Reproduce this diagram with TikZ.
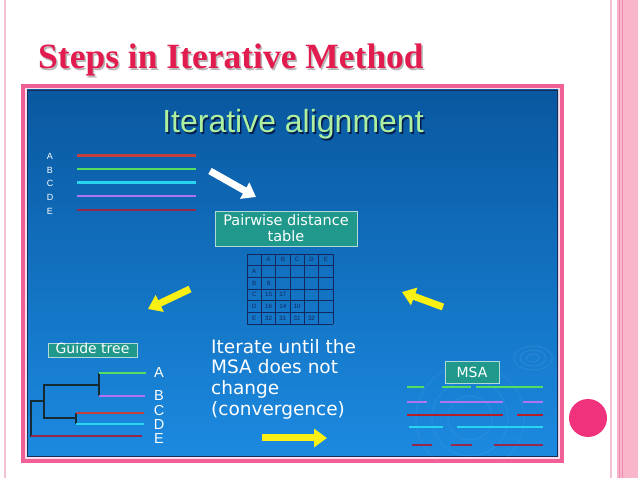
\documentclass[tikz,border=0pt]{standalone}
\usepackage{fontspec}
\setmainfont{Liberation Serif}
\newfontfamily\arialfont{Liberation Sans}
\newfontfamily\verdfont{DejaVu Sans}
\usetikzlibrary{arrows.meta}

\definecolor{framepink}{RGB}{240,95,150}
\definecolor{stripepink}{RGB}{249,182,202}
\definecolor{darkstripe}{RGB}{238,140,175}
\definecolor{lightpink}{RGB}{246,192,212}
\definecolor{titlered}{RGB}{226,28,78}
\definecolor{paneltop}{RGB}{9,88,160}
\definecolor{panelmid}{RGB}{11,98,174}
\definecolor{panelbot}{RGB}{28,138,224}
\definecolor{panelrim}{RGB}{25,45,85}
\definecolor{boxteal}{RGB}{32,152,140}
\definecolor{titlegreen}{RGB}{172,240,160}
\definecolor{seqred}{RGB}{196,64,60}
\definecolor{seqgreen}{RGB}{86,222,96}
\definecolor{seqcyan}{RGB}{40,212,238}
\definecolor{seqpurple}{RGB}{176,116,240}
\definecolor{seqwine}{RGB}{150,40,76}
\definecolor{msared}{RGB}{180,30,40}
\definecolor{arrowyellow}{RGB}{250,240,20}
\definecolor{treedark}{RGB}{22,42,52}
\definecolor{gridnavy}{RGB}{18,40,95}
\definecolor{dotpink}{RGB}{240,50,125}

\tikzset{
  seqline/.style={line width=2.4pt},
  branch/.style={line width=2.6pt, color=treedark},
  tealbox/.style={fill=boxteal, draw=white!65!boxteal, line width=0.8pt, text=white, inner sep=0pt},
  cell/.style={font=\arialfont\fontsize{6.2}{7}\selectfont, text=gridnavy, inner sep=0pt},
  gridline/.style={draw=gridnavy, line width=0.8pt},
  treelabel/.style={font=\arialfont\fontsize{14.5}{16}\selectfont, text=white, inner sep=0pt},
  blockarrow/.style={line width=7pt, -{Triangle[length=13pt,width=18pt]}},
}

\begin{document}
\begin{tikzpicture}[x=1pt,y=-1pt]
  \useasboundingbox (0,0) rectangle (638,478);
  \fill[white] (0,0) rectangle (638,478);
  % page edges
  \draw[lightpink, line width=1.5pt] (5,0) -- (5,478);
  \draw[lightpink, line width=2pt] (611,0) -- (611,478);
  \fill[stripepink] (617,0) rectangle (638,478);
  \draw[darkstripe, line width=0.8pt] (619.5,0) -- (619.5,478);
  \draw[darkstripe, line width=0.8pt] (622.5,0) -- (622.5,478);
  % title with its shadow
  \node[anchor=base west, inner sep=0pt, text=black!55, opacity=0.5, font=\bfseries\fontsize{35.5}{40}\selectfont] (titleshadow) at (39.5,70.5) {Steps in Iterative Method};
  \node[anchor=base west, inner sep=0pt, text=titlered, font=\bfseries\fontsize{35.5}{40}\selectfont] (title) at (38,69) {Steps in Iterative Method};
  % frame and blue panel
  \fill[framepink] (21,84) rectangle (564,463);
  \fill[white!80!framepink] (25,88) rectangle (560,459);
  \shade[top color=paneltop, middle color=panelmid, bottom color=panelbot] (27,90) rectangle (558,457);
  \draw[panelrim, line width=1pt] (27.5,90.5) rectangle (557.5,456.5);
  % faint ripples
  \foreach \r in {4,8,12}
    \draw[white, opacity=0.08, line width=1pt] (533,358) ellipse ({\r*1.6} and {\r});
  \foreach \r in {22,38,54}
    \draw[white, opacity=0.045, line width=1.5pt] (470,418) circle (\r);
  % heading
  \node[anchor=base, inner sep=0pt, text=black!85!blue, opacity=0.7, font=\arialfont\fontsize{32}{36}\selectfont] (headshadow) at (294.5,134.5) {Iterative alignment};
  \node[anchor=base, inner sep=0pt, text=titlegreen, font=\arialfont\fontsize{32}{36}\selectfont] (heading) at (293,133) {Iterative alignment};
  % input sequences
  \foreach \lab/\y/\col in {A/155.7/seqred, B/169.3/seqgreen, C/182.7/seqcyan, D/196/seqpurple, E/210/seqwine} {
    \node[font=\arialfont\fontsize{9}{10}\selectfont, text=white, inner sep=0pt] (s\lab) at (50,\y+1) {\lab};
    \coordinate (b\lab) at (77,\y);
    \coordinate (e\lab) at (196,\y);
    \draw[seqline, \col] (b\lab) -- (e\lab);
  }
  % step 1
  \coordinate (wTail) at (210,171);
  \coordinate (wTip) at (256,197);
  \draw[blockarrow, white] (wTail) -- (wTip);
  \node[tealbox, minimum width=142pt, minimum height=35pt, align=center,
        font=\verdfont\fontsize{14.5}{16}\selectfont] (pdt) at (286,228.5) {Pairwise distance\\table};
  % distance table
  \foreach \i in {0,...,6} {
    \draw[gridline] (247+\i*14.33,254) -- (247+\i*14.33,324);
    \draw[gridline] (247,254+\i*11.67) -- (333,254+\i*11.67);
  }
  \foreach \lab [count=\c] in {A,B,C,D,E} {
    \node[cell] (col\lab) at (247+\c*14.33+7.17,259.8) {\lab};
    \node[cell] (row\lab) at (254.2,254+\c*11.67+5.83) {\lab};
  }
  \foreach \r/\c/\v in {2/1/8, 3/1/15, 3/2/17, 4/1/16, 4/2/14, 4/3/10, 5/1/32, 5/2/31, 5/3/31, 5/4/32}
    \node[cell] (v\r\c) at (247+\c*14.33+7.17,254+\r*11.67+5.83) {\v};
  % step 2
  \coordinate (lTail) at (190,289);
  \coordinate (lTip) at (148,309);
  \draw[blockarrow, arrowyellow] (lTail) -- (lTip);
  \node[tealbox, minimum width=89pt, minimum height=14pt, text height=10pt, text depth=2.5pt,
        font=\verdfont\fontsize{14}{15}\selectfont] (guide) at (92.5,350) {Guide tree};
  % guide tree
  \draw[branch] (99,373) -- (99,396);
  \draw[branch] (44,385) -- (99,385);
  \draw[branch] (76,413) -- (76,424);
  \draw[branch] (44,418) -- (76,418);
  \draw[branch] (44,384) -- (44,419);
  \draw[branch] (31,401) -- (44,401);
  \draw[branch] (31,400) -- (31,437);
  \draw[seqline, seqgreen] (99,373) -- (146,373);
  \draw[seqline, seqpurple] (99,396) -- (145,396);
  \draw[seqline, seqred] (76,413) -- (144,413);
  \draw[seqline, seqcyan] (76,424) -- (144,424);
  \draw[seqline, seqwine] (31,436) -- (142,436);
  \foreach \lab/\y in {A/373, B/396, C/411, D/425, E/439}
    \node[treelabel] (t\lab) at (159,\y) {\lab};
  % iterate
  \node[anchor=north west, inner sep=0pt, align=left, text=white,
        font=\verdfont\fontsize{18.5}{20.7}\selectfont] (iter) at (211,339) {Iterate until the\\MSA does not\\change\\(convergence)};
  \coordinate (bTail) at (262,438);
  \coordinate (bTip) at (327,438);
  \draw[blockarrow, arrowyellow] (bTail) -- (bTip);
  % step 3
  \coordinate (rTail) at (443,307);
  \coordinate (rTip) at (402,292);
  \draw[blockarrow, arrowyellow] (rTail) -- (rTip);
  \node[tealbox, minimum width=54pt, minimum height=22pt,
        font=\verdfont\fontsize{14}{15}\selectfont] (msa) at (472,372) {MSA};
  % aligned sequences with gaps
  \foreach \y/\col/\segs in {387/seqgreen/{407/424,442/471,476/543},
                             402/seqpurple/{407/427,440/503,523/543},
                             415/msared/{407/503,517/543},
                             427/seqcyan/{409/443,457/543},
                             445/seqwine/{412/432,451/472,494/543}}
    \foreach \s/\e in \segs
      \draw[seqline, \col] (\s,\y) -- (\e,\y);
  % side dot
  \fill[dotpink] (588,418) circle (19);
\end{tikzpicture}
\end{document}
